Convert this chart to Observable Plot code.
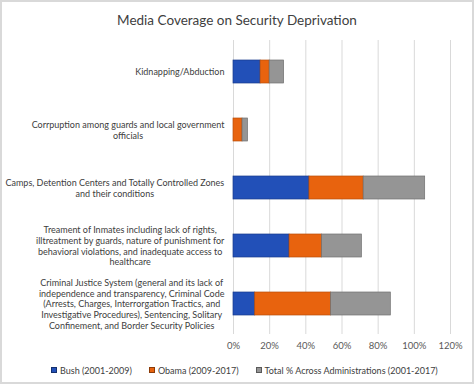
<!DOCTYPE html>
<html><head><meta charset="utf-8">
<script src="https://cdn.jsdelivr.net/npm/d3@7"></script>
<script src="https://cdn.jsdelivr.net/npm/@observablehq/plot@0.6"></script>
<style>
html,body{margin:0;padding:0;background:#fff;}
#chart{width:474px;height:384px;position:relative;overflow:hidden;font-family:Lato,"Open Sans",sans-serif;background:#fff;}
#frame{position:absolute;left:0;top:0;width:474px;height:384px;box-sizing:border-box;border:2px solid #d9d9d9;pointer-events:none;}
#title{height:34px;box-sizing:border-box;padding-top:11px;text-align:center;font-size:13.5px;line-height:18px;color:#404040;}
#plot svg{display:block;}
#legend{display:flex;align-items:center;padding-left:51px;height:28px;font-size:9px;color:#404040;white-space:nowrap;}
.item{display:flex;align-items:center;margin-right:17px;flex-shrink:0;}
.sw{width:6px;height:6px;margin-right:3px;box-sizing:border-box;border:0.5px solid rgba(0,0,0,0.4);}
</style></head>
<body>
<div id="chart">
  <div id="title">Media Coverage on Security Deprivation</div>
  <div id="plot"></div>
  <div id="legend"></div>
  <div id="frame"></div>
</div>
<script>
const categories = [
  "Kidnapping/Abduction",
  "Corrpuption among guards and local government officials",
  "Camps, Detention Centers and Totally Controlled Zones and their conditions",
  "Treament of Inmates including lack of rights, illtreatment by guards, nature of punishment for behavioral violations, and inadequate access to healthcare",
  "Criminal Justice System (general and its lack of independence and transparency, Criminal Code (Arrests, Charges, Interrorgation Tractics, and Investigative Procedures), Sentencing, Solitary Confinement, and Border Security Policies"
];
const categoryLabels = [
  "Kidnapping/Abduction",
  "Corrpuption among guards and local government\nofficials",
  "Camps, Detention Centers and Totally Controlled Zones\nand their conditions",
  "Treament of Inmates including lack of rights,\nilltreatment by guards, nature of punishment for\nbehavioral violations, and inadequate access to\nhealthcare",
  "Criminal Justice System (general and its lack of\nindependence and transparency, Criminal Code\n(Arrests, Charges, Interrorgation Tractics, and\nInvestigative Procedures), Sentencing, Solitary\nConfinement, and Border Security Policies"
];
const seriesNames = ["Bush (2001-2009)", "Obama (2009-2017)", "Total % Across Administrations (2001-2017)"];
const bush  = [15, 0, 42, 31, 12];
const obama = [5, 5, 30, 18, 42];
const total = [8, 3, 34, 22, 33];
const xTicks = [0, 20, 40, 60, 80, 100, 120];
const fills = ["#2250B8", "#E8630E", "#959595"];
const strokes = ["#17398a", "#b84d0a", "#6f6f6f"];

const seriesValues = [bush, obama, total];
const data = [];
categories.forEach((c, i) => {
  seriesNames.forEach((s, j) => {
    data.push({category: c, series: j, value: seriesValues[j][i]});
  });
});

const labelFont = 9;
const fontFamily = "Lato";
const canvas = document.createElement("canvas");
const ctx = canvas.getContext("2d");
ctx.font = `${labelFont}px ${fontFamily}`;

const labelMarks = categories.map((c, i) => {
  const lines = categoryLabels[i].split("\n");
  const maxW = Math.max(...lines.map(l => ctx.measureText(l).width));
  return Plot.text([c], {
    y: d => d,
    text: () => categoryLabels[i],
    frameAnchor: "left",
    textAnchor: "middle",
    dx: -(9 + maxW / 2),
    lineHeight: 1.18,
    fontSize: labelFont,
    fill: "#404040"
  });
});

const chart = Plot.plot({
  width: 474,
  height: 322,
  marginTop: 6,
  marginBottom: 22,
  marginLeft: 233,
  marginRight: 24,
  style: {fontFamily: fontFamily, background: "#fff"},
  x: {domain: [0, 120], axis: null, label: null},
  y: {domain: categories, paddingInner: 0.61, paddingOuter: 0.305, axis: null, label: null},
  color: {type: "identity"},
  marks: [
    Plot.ruleX(xTicks, {stroke: "#d9d9d9", strokeWidth: 1}),
    Plot.barX(data, Plot.stackX({
      x: "value",
      y: "category",
      fill: d => fills[d.series],
      stroke: d => strokes[d.series],
      strokeWidth: 0.7
    })),
    Plot.axisX({ticks: xTicks, tickFormat: d => d + "%", tickSize: 0, tickPadding: 8, fontSize: 9.5, color: "#595959", label: null}),
    ...labelMarks
  ]
});
document.getElementById("plot").appendChild(chart);

const legend = document.getElementById("legend");
seriesNames.forEach((s, j) => {
  const item = document.createElement("div");
  item.className = "item";
  const sw = document.createElement("div");
  sw.className = "sw";
  sw.style.background = fills[j];
  const t = document.createElement("span");
  t.textContent = s;
  item.appendChild(sw);
  item.appendChild(t);
  legend.appendChild(item);
});
</script>
</body></html>
